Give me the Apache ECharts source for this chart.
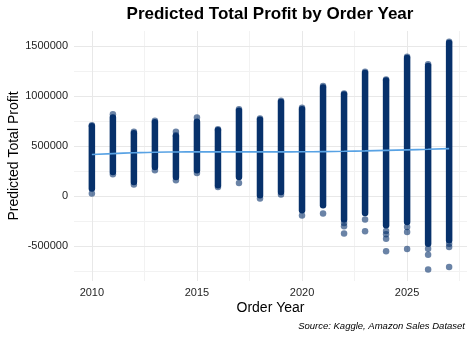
<!DOCTYPE html>
<html>
<head>
<meta charset="utf-8">
<script src="https://cdn.jsdelivr.net/npm/echarts@6/dist/echarts.min.js"></script>
<style>
  html, body { margin: 0; padding: 0; background: #ffffff; }
  #chart { width: 474px; height: 338px; }
</style>
</head>
<body>
<div id="chart"></div>
<script>
// Order years shown on the x axis
const years = [2010, 2011, 2012, 2013, 2014, 2015, 2016, 2017, 2018,
               2019, 2020, 2021, 2022, 2023, 2024, 2025, 2026, 2027];

// Dense band of predicted profits per year (lower / upper edge)
const bandLow  = [77000, 243000, 143000, 293000, 193000, 260000, 110000, 193000, 10000,
                  43000, -140000, -90000, -233000, -167000, -290000, -257000, -473000, -440000];
const bandHigh = [700000, 787000, 630000, 740000, 600000, 743000, 660000, 855000, 765000,
                  940000, 870000, 1085000, 1015000, 1230000, 1155000, 1380000, 1300000, 1530000];

// Individual predictions standing out at the ends of each year's band
const extremePoints = [
  [2010, 710000], [2010, 27000],
  [2011, 820000], [2011, 220000],
  [2012, 643000], [2012, 117000],
  [2013, 753000], [2013, 260000],
  [2014, 643000], [2014, 610000], [2014, 160000],
  [2015, 787000], [2015, 233000],
  [2016, 670000], [2016, 93000],
  [2017, 870000], [2017, 133000],
  [2018, 777000], [2018, -23000],
  [2019, 953000], [2019, 17000],
  [2020, 883000], [2020, -193000],
  [2021, 1100000], [2021, -173000],
  [2022, 1027000], [2022, -267000], [2022, -300000], [2022, -373000],
  [2023, 1243000], [2023, -233000], [2023, -350000],
  [2024, 1167000], [2024, -347000], [2024, -380000], [2024, -423000], [2024, -550000],
  [2025, 1393000], [2025, -307000], [2025, -357000], [2025, -527000],
  [2026, 1317000], [2026, -523000], [2026, -583000], [2026, -730000],
  [2027, 1543000], [2027, -473000], [2027, -507000], [2027, -707000]
];

// Smoothed trend of predicted profit
const trendValues = [417000, 426000, 434000, 440000, 442000, 443000, 443000, 443000, 443000,
                     443000, 444000, 446000, 449000, 453000, 458000, 463000, 469000, 476000];

// Axis ticks and grid lines
const xTicks = [2010, 2015, 2020, 2025];
const xMinor = [2012.5, 2017.5, 2022.5, 2027.5];
const yTicks = [-500000, 0, 500000, 1000000, 1500000];
const yMinor = [-750000, -250000, 250000, 750000, 1250000];

const FONT = "'Liberation Sans', Arial, Helvetica, sans-serif";
const POINT = '#07316b';

const bandData = years.map((y, i) => [y, bandLow[i], bandHigh[i]]);
const trendData = years.map((y, i) => [y, trendValues[i]]);

const minorStyle = { color: '#f2f2f2', width: 1, type: 'solid' };
const majorStyle = { color: '#e8e8e8', width: 1, type: 'solid' };
const gridLines = [];
xMinor.forEach(v => gridLines.push({ xAxis: v, lineStyle: minorStyle }));
yMinor.forEach(v => gridLines.push({ yAxis: v, lineStyle: minorStyle }));
xTicks.forEach(v => gridLines.push({ xAxis: v, lineStyle: majorStyle }));
yTicks.forEach(v => gridLines.push({ yAxis: v, lineStyle: majorStyle }));

const chart = echarts.init(document.getElementById('chart'), null, { renderer: 'canvas' });

chart.setOption({
  animation: false,
  backgroundColor: '#ffffff',
  textStyle: { fontFamily: FONT },
  grid: { left: 74, right: 7, top: 31, bottom: 57, containLabel: false, outerBoundsMode: 'none' },
  xAxis: {
    type: 'value',
    min: 2009.15,
    max: 2027.85,
    name: 'Order Year',
    nameLocation: 'middle',
    nameGap: 20,
    nameMoveOverlap: false,
    nameTextStyle: { fontFamily: FONT, fontSize: 14, color: '#000000' },
    axisLine: { show: false },
    axisTick: { show: false },
    splitLine: { show: false },
    axisLabel: {
      customValues: xTicks,
      formatter: v => String(v),
      fontFamily: FONT, fontSize: 11, color: '#1e1e1e', margin: 6
    }
  },
  yAxis: {
    type: 'value',
    min: -846000,
    max: 1650000,
    name: 'Predicted Total Profit',
    nameLocation: 'middle',
    nameGap: 53,
    nameRotate: 90,
    nameMoveOverlap: false,
    nameTextStyle: { fontFamily: FONT, fontSize: 14, color: '#000000' },
    axisLine: { show: false },
    axisTick: { show: false },
    splitLine: { show: false },
    axisLabel: {
      customValues: yTicks,
      formatter: v => String(v),
      fontFamily: FONT, fontSize: 11, color: '#1e1e1e', margin: 6
    }
  },
  graphic: [
    {
      type: 'text', x: 270, y: 14.5, silent: true,
      style: {
        text: 'Predicted Total Profit by Order Year',
        fontFamily: FONT, fontSize: 17, fontWeight: 'bold',
        fill: '#000000', align: 'center', verticalAlign: 'middle'
      }
    },
    {
      type: 'text', x: 465, y: 326, silent: true,
      style: {
        text: 'Source: Kaggle, Amazon Sales Dataset',
        fontFamily: FONT, fontSize: 9.5, fontStyle: 'italic',
        fill: '#000000', align: 'right', verticalAlign: 'middle'
      }
    }
  ],
  series: [
    {
      // panel grid, kept underneath the data marks
      type: 'line',
      data: [],
      z: 0,
      silent: true,
      markLine: {
        z: 0,
        silent: true,
        symbol: 'none',
        animation: false,
        label: { show: false },
        emphasis: { disabled: true },
        lineStyle: { type: 'solid' },
        data: gridLines
      }
    },
    {
      type: 'custom',
      z: 2,
      silent: true,
      data: bandData,
      encode: { x: 0, y: [1, 2] },
      renderItem: function (params, api) {
        const x = api.value(0);
        const p1 = api.coord([x, api.value(1)]);
        const p2 = api.coord([x, api.value(2)]);
        return {
          type: 'line',
          shape: { x1: p1[0], y1: p1[1], x2: p2[0], y2: p2[1] },
          style: { stroke: POINT, lineWidth: 6.5, lineCap: 'round' }
        };
      }
    },
    {
      type: 'scatter',
      z: 3,
      silent: true,
      data: extremePoints,
      symbol: 'circle',
      symbolSize: 6.5,
      itemStyle: { color: POINT, opacity: 0.6 }
    },
    {
      type: 'line',
      z: 4,
      silent: true,
      data: trendData,
      smooth: true,
      showSymbol: false,
      symbol: 'none',
      lineStyle: { color: '#58a2e4', width: 1.6 }
    }
  ]
});
</script>
</body>
</html>
